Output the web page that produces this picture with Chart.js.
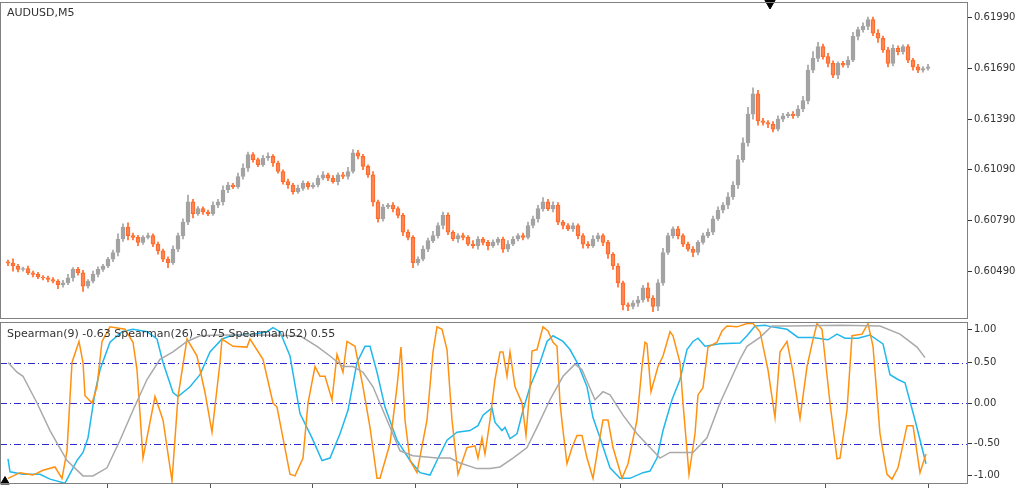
<!DOCTYPE html>
<html>
<head>
<meta charset="utf-8">
<script src="https://cdn.jsdelivr.net/npm/chart.js@4"></script>
<style>
  body { margin: 0; background: #fff; width: 1024px; height: 491px; overflow: hidden; }
  #top { position: absolute; left: 0; top: 0; width: 1024px; height: 319px; }
  #bottom { position: absolute; left: 0; top: 321px; width: 1024px; height: 170px; }
</style>
</head>
<body>
<div id="top"><canvas id="priceChart"></canvas></div>
<div id="bottom"><canvas id="spearmanChart"></canvas></div>
<script>
// prices in points above 0.60000 (1 point = 0.00001)
const BASE = 0.6;
const firstOpen = 545;
const closes = [537,520,500,505,480,470,455,450,440,430,410,420,450,500,480,400,430,470,500,520,
  560,600,680,750,700,690,660,690,700,650,610,560,540,620,700,780,900,830,860,840,
  830,880,900,970,1000,990,1050,1100,1180,1150,1120,1160,1170,1130,1080,1020,1000,960,980,1010,
  990,1000,1040,1060,1040,1020,1060,1050,1080,1190,1170,1110,1060,900,800,870,880,860,820,720,
  690,540,560,620,670,700,760,820,720,680,700,690,650,640,680,660,640,660,680,620,
  650,680,700,690,760,800,860,900,860,880,780,760,740,760,700,650,640,680,700,660,
  590,520,420,290,280,300,320,390,330,280,420,600,700,740,700,650,620,600,660,700,
  720,800,850,880,930,1000,1150,1250,1420,1540,1380,1370,1360,1330,1390,1410,1420,1410,1450,1500,
  1680,1750,1820,1760,1720,1650,1720,1710,1740,1880,1920,1940,1980,1900,1870,1800,1720,1810,1790,1820,
  1740,1700,1680,1690,1700];
const wickUp = [10,25,10,8,15,10,12,8,10,12,10,15,20,10,12,15,10,20,15,10,
  12,15,30,20,25,15,12,10,15,10,12,10,15,20,15,20,40,15,12,10,
  12,20,15,25,15,10,20,25,15,12,10,15,20,10,12,10,15,10,20,15,
  10,12,15,20,10,15,12,15,25,20,15,12,10,20,10,15,12,15,10,12,
  15,10,15,20,15,25,15,20,15,10,12,15,10,20,15,10,12,15,10,12,
  20,15,12,15,20,15,20,25,15,20,15,10,12,15,10,12,15,20,15,10,
  12,10,15,10,12,15,20,15,30,15,20,25,15,12,15,10,12,15,10,15,
  20,15,20,15,25,20,25,30,40,35,20,15,12,15,20,15,10,15,20,25,
  30,40,25,15,20,15,10,12,20,25,15,20,15,15,20,12,15,20,15,10,
  12,10,15,12,15];
const wickDown = [15,30,15,10,12,15,10,12,15,10,25,15,10,20,15,30,12,10,15,12,
  10,15,20,15,25,15,20,12,10,15,20,15,30,10,15,20,15,25,10,15,
  12,10,15,20,15,12,10,15,20,15,12,10,15,20,10,15,20,15,10,12,
  15,10,12,10,15,10,20,12,15,10,15,20,15,25,20,15,10,20,15,20,
  15,30,15,10,15,12,15,20,15,10,20,15,10,15,20,15,25,10,15,20,
  15,10,12,15,10,15,20,15,12,20,15,20,10,15,20,25,15,10,15,20,
  25,20,25,30,25,15,20,15,20,30,25,15,12,15,20,15,12,25,15,10,
  12,15,10,15,20,15,20,15,20,30,25,15,20,15,10,15,12,15,10,15,
  20,15,20,15,20,15,20,12,15,10,20,15,20,15,25,15,20,15,20,15,
  15,20,15,12,10];
const priceTicks = [490, 790, 1090, 1390, 1690, 1990];
const markerBar = 152.4;

// Spearman lines: [bar position, value]
const spearman9 = [[0,-0.93],[2.4,-0.86],[5,-0.89],[7,-0.83],[9.4,-0.79],[10.8,-0.93],[11.8,-0.59],[12.8,0.5],
  [14.2,0.76],[15,0.5],[15.4,0.09],[16.8,0],[17.8,0.2],[18.8,0.76],[20.4,0.94],[23.4,0.91],[25,0.75],[25.8,0.41],
  [27,-0.68],[29.4,0.08],[31,-0.21],[32.8,-0.96],[34,0.08],[35.8,0.79],[37.8,0.58],[39.4,0.13],[40.8,-0.36],
  [42.4,0.5],[42.8,0.79],[45,0.7],[47.8,0.69],[48.4,0.79],[51,0.54],[53,0],[53.8,-0.05],[56.4,-0.88],[57.4,-0.9],
  [59,-0.68],[60,0],[61.4,0.45],[62.4,0.33],[63.4,0.33],[64.8,0.04],[65.8,0.6],[67,0.38],[67.8,0.76],[69.4,0.7],
  [71,0.2],[72.4,-0.3],[73.8,-0.93],[74.4,-0.93],[76.4,-0.5],[77.8,0.2],[78.6,0.69],[79.4,-0.21],[80.4,-0.71],
  [81.8,-0.86],[83.8,-0.21],[85,0.63],[85.8,0.94],[86.8,0.91],[87.8,0.66],[88.8,-0.21],[90,-0.88],[91.8,-0.55],
  [93.4,-0.53],[94,-0.68],[94.8,-0.43],[95.4,-0.63],[96.4,-0.21],[97.4,0.29],[98.4,0.63],[99,0.63],[99.8,0.33],
  [100.4,0.63],[101.4,0.2],[102.8,0],[103.6,-0.4],[104.4,0.2],[104.8,0.64],[105.8,0.66],[107,0.94],[108,0.89],
  [109,0.75],[109.8,0.7],[110.4,0],[111,-0.34],[111.8,-0.75],[112.8,-0.55],[113.8,-0.4],[114.8,-0.4],[115.8,-0.68],
  [117,-0.93],[118,-0.55],[119,-0.21],[120,-0.21],[121,-0.55],[122.8,-0.93],[124,-0.75],[125.8,-0.21],[126.8,0.45],
  [127.4,0.75],[127.8,0.73],[128.6,0.14],[130,0.45],[131,0.58],[132.4,0.88],[133,0.83],[134.4,0.5],[135,0],
  [136.2,-0.88],[137.4,-0.38],[138,0.1],[139,0.19],[140,0.69],[141.8,0.75],[142.8,0.89],[143.8,0.95],[145.8,0.94],
  [147.8,0.98],[149,0.98],[150.4,0.88],[152,0.41],[153.4,-0.18],[154.4,0.63],[155.8,0.76],[157,0.38],[158.4,-0.19],
  [159.8,0.45],[160.8,0.73],[161.8,0.98],[162.8,0.91],[164.4,0],[165.8,-0.69],[166.4,-0.68],[167.8,-0.09],
  [168.8,0.83],[170.8,0.85],[172,0.98],[173,0.7],[174.4,-0.38],[175.8,-0.88],[176.8,-0.94],[178,-0.8],
  [179.8,-0.28],[181,-0.28],[182.4,-0.86],[183.6,-0.63]];
const spearman26 = [[0,-0.69],[0.4,-0.85],[3,-0.88],[6.4,-0.88],[8.4,-0.94],[11.4,-0.99],[13.8,-0.71],[15,-0.61],
  [16,-0.43],[17.4,0.13],[18.4,0.41],[20.4,0.75],[22.8,0.88],[25,0.91],[27.8,0.88],[29.8,0.79],[31,0.5],[33,0.13],
  [34,0.08],[36.4,0.2],[38.4,0.35],[40.4,0.63],[42.8,0.79],[45,0.84],[49,0.85],[51.8,0.88],[53,0.93],[54.4,0.88],
  [56.4,0.58],[58.4,-0.13],[60.8,-0.43],[62.8,-0.71],[64.4,-0.68],[66.4,-0.38],[68,-0.09],[69.8,0.5],[71.4,0.7],
  [72.4,0.7],[73.8,0.38],[75.4,-0.05],[77.8,-0.46],[80.4,-0.71],[82.4,-0.86],[84.4,-0.89],[85.8,-0.71],[87.8,-0.46],
  [89.8,-0.36],[92.4,-0.34],[94,-0.28],[95,-0.15],[96.8,-0.06],[97.4,-0.24],[98.8,-0.34],[99.4,-0.3],[100.4,-0.44],
  [101.8,-0.38],[103,-0.09],[104.4,0.2],[106.4,0.5],[107.8,0.76],[109,0.83],[111,0.76],[112.4,0.66],[114,0.48],
  [115.8,0.2],[117,-0.18],[118.4,-0.43],[120.4,-0.8],[122.4,-0.93],[124.4,-0.93],[127,-0.86],[128.4,-0.84],
  [129.8,-0.68],[131,-0.34],[132.8,0.04],[134.4,0.29],[135.8,0.66],[137,0.76],[138,0.8],[139.4,0.7],[142.4,0.73],
  [146.4,0.74],[147.8,0.83],[149.4,0.95],[151.4,0.96],[152.8,0.94],[155.8,0.91],[158,0.81],[161,0.81],[164,0.78],
  [165.8,0.85],[167.4,0.8],[170,0.8],[172.4,0.84],[175,0.73],[176.4,0.35],[178,0.29],[179.4,0.25],[181.4,-0.21],
  [183.6,-0.75]];
const spearman52 = [[0,0.5],[1.8,0.38],[3,0.33],[5.8,0],[8.4,-0.34],[11.8,-0.71],[15,-0.9],[17,-0.9],[19.8,-0.8],
  [22.4,-0.46],[25,-0.09],[27.8,0.29],[30.4,0.54],[33,0.63],[35.8,0.76],[38.4,0.83],[42.4,0.84],[49,0.84],
  [58.4,0.83],[61.8,0.7],[64.4,0.58],[67,0.45],[69,0.45],[71,0.38],[73,0.2],[75.8,-0.21],[78.4,-0.59],[81,-0.65],
  [85.8,-0.68],[88.4,-0.68],[90.4,-0.74],[93.8,-0.81],[96.4,-0.81],[98.4,-0.79],[101,-0.68],[103.8,-0.55],
  [105.8,-0.3],[108.4,0.04],[111,0.33],[113.4,0.48],[114.8,0.41],[117.4,0.04],[119,0.14],[120.4,0.1],[123,-0.15],
  [125.8,-0.38],[128.4,-0.55],[130.4,-0.68],[132.4,-0.61],[137,-0.61],[139.8,-0.43],[142.4,0],[146.4,0.54],
  [147.8,0.7],[150.4,0.81],[152.8,0.95],[156.4,0.95],[166.4,0.96],[174.4,0.95],[178.4,0.85],[181.8,0.69],[183.4,0.56]];
// level labels and where their tick marks sit inside the panel
const levelLabels = ['1.00', '0.50', '0.00', '-0.50', '-1.00'];
const levelTickPos = [0.91, 0.5, 0, -0.5, -0.89];
const dashedLevels = [0.5, 0, -0.5];
const timeTicks = [19.8, 40.4, 60.8, 81.4, 101.8, 122.4, 142.8, 163.4, 184];

const X_MIN = -1.6, X_MAX = 192;
const BULL = '#a3a3a3', BEAR = '#ff6a2a', BEAR_FILL = 'rgba(255,150,110,0.4)';
const FONT = { family: 'DejaVu Sans', size: 10 };

const opens = closes.map((c, i) => i === 0 ? firstOpen : closes[i - 1]);
const isBull = closes.map((c, i) => c >= opens[i]);
const bodies = closes.map((c, i) => {
  let a = opens[i], b = c;
  if (Math.abs(a - b) < 4) b = a + (isBull[i] ? 4 : -4);
  return { x: i, y: [a, b] };
});
const wicks = closes.map((c, i) => ({
  x: i, y: [Math.min(c, opens[i]) - wickDown[i], Math.max(c, opens[i]) + wickUp[i]]
}));

const frame = {
  id: 'frame',
  beforeDatasetsDraw(chart, args, opts) {
    if (!opts.levels) return;
    const { ctx, chartArea: a, scales } = chart;
    ctx.save();
    ctx.strokeStyle = '#2a2ad0';
    ctx.lineWidth = 1;
    ctx.setLineDash([7, 3, 1, 3]);
    opts.levels.forEach(v => {
      const y = Math.round(scales.y.getPixelForValue(v)) + 0.5;
      ctx.beginPath();
      ctx.moveTo(a.left, y);
      ctx.lineTo(a.right, y);
      ctx.stroke();
    });
    ctx.restore();
  },
  afterDraw(chart, args, opts) {
    const { ctx, chartArea: a } = chart;
    ctx.save();
    ctx.strokeStyle = '#808080';
    ctx.lineWidth = 1;
    ctx.strokeRect(a.left + 0.5, a.top + 0.5, a.right - a.left - 1, a.bottom - a.top - 1);
    if (opts.text) {
      ctx.fillStyle = '#333';
      ctx.font = '11px "DejaVu Sans"';
      ctx.textBaseline = 'top';
      ctx.fillText(opts.text, a.left + 7, a.top + opts.dy);
    }
    ctx.restore();
  }
};

const noPad = s => { s.width = 56; s.paddingTop = 0; s.paddingBottom = 0; };

new Chart(document.getElementById('priceChart'), {
  type: 'bar',
  data: {
    datasets: [
      { type: 'scatter', data: [{ x: markerBar, y: 2084 }], pointStyle: 'triangle', rotation: 180,
        radius: 7, backgroundColor: '#000', borderColor: '#000', clip: false, order: 0 },
      { data: bodies, grouped: false, barThickness: 4, borderWidth: 1, borderSkipped: false,
        backgroundColor: isBull.map(b => b ? BULL : BEAR_FILL),
        borderColor: isBull.map(b => b ? BULL : BEAR), order: 1 },
      { data: wicks, grouped: false, barThickness: 1, borderWidth: 0,
        backgroundColor: isBull.map(b => b ? BULL : BEAR), order: 2 }
    ]
  },
  options: {
    responsive: true, maintainAspectRatio: false, animation: false,
    layout: { padding: { top: 2, bottom: 0 }, autoPadding: false },
    plugins: { legend: { display: false }, tooltip: { enabled: false }, frame: { text: 'AUDUSD,M5', dy: 6 } },
    scales: {
      x: { type: 'linear', min: X_MIN, max: X_MAX, offset: false, display: false },
      y: {
        position: 'right', min: 206, max: 2084,
        afterFit: noPad,
        afterBuildTicks: s => { s.ticks = priceTicks.map(v => ({ value: v })); },
        grid: { drawOnChartArea: false, tickLength: 4, color: '#333' },
        border: { display: false },
        ticks: { color: '#333', font: FONT, padding: 2, callback: v => (BASE + v / 1e5).toFixed(5) }
      }
    }
  },
  plugins: [frame]
});

const toPts = arr => arr.map(p => ({ x: p[0], y: p[1] }));
const lineDs = (arr, color) => ({
  type: 'line', data: toPts(arr), borderColor: color, borderWidth: 1.5,
  pointRadius: 0, tension: 0, fill: false
});

new Chart(document.getElementById('spearmanChart'), {
  type: 'line',
  data: {
    datasets: [
      { type: 'scatter', data: [{ x: -0.6, y: -0.97 }], pointStyle: 'triangle', radius: 5,
        backgroundColor: '#000', borderColor: '#000', clip: false },
      lineDs(spearman52, '#a9a9a9'),
      lineDs(spearman9, '#ff9110'),
      lineDs(spearman26, '#22b8ec')
    ]
  },
  options: {
    responsive: true, maintainAspectRatio: false, animation: false,
    layout: { padding: { top: 1 }, autoPadding: false },
    plugins: {
      legend: { display: false }, tooltip: { enabled: false },
      frame: { text: 'Spearman(9) -0.63 Spearman(26) -0.75 Spearman(52) 0.55', dy: 7, levels: dashedLevels }
    },
    scales: {
      x: {
        type: 'linear', min: X_MIN, max: X_MAX, offset: false,
        afterBuildTicks: s => { s.ticks = timeTicks.map(v => ({ value: v })); },
        afterFit: s => { s.height = 7; },
        grid: { drawOnChartArea: false, tickLength: 4, color: '#555' },
        border: { display: false },
        ticks: { display: true, callback: () => '', padding: 0 }
      },
      y: {
        position: 'right', min: -1, max: 1,
        afterFit: noPad,
        afterBuildTicks: s => { s.ticks = levelTickPos.map(v => ({ value: v })); },
        grid: { drawOnChartArea: false, color: '#333', tickLength: 4 },
        border: { display: false },
        ticks: { color: '#333', font: FONT, padding: 2,
          callback: (v, i) => levelLabels[i] }
      }
    }
  },
  plugins: [frame]
});
</script>
</body>
</html>
